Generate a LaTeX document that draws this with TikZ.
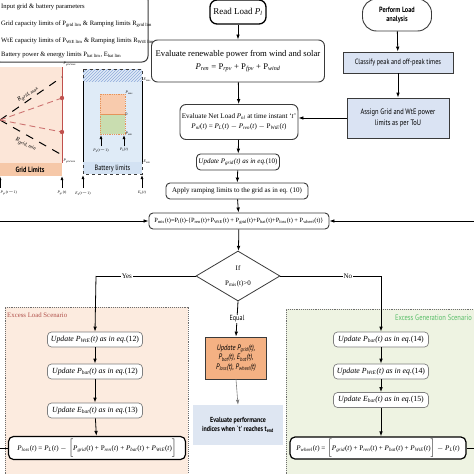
\documentclass[tikz,border=0pt]{standalone}
\usepackage{fontspec}
\setmainfont{Liberation Serif}
\newfontfamily\condsans{PT Sans}[FakeStretch=0.82]
\usetikzlibrary{shapes.geometric,arrows.meta,patterns,positioning}

\definecolor{boxdark}{HTML}{3A3A3A}
\definecolor{boxgray}{HTML}{7F7F7F}
\definecolor{touBlue}{HTML}{DAE3F3}
\definecolor{perfBlue}{HTML}{DEE6F2}
\definecolor{upOrange}{HTML}{F4B183}
\definecolor{lossPeach}{HTML}{FCEBDF}
\definecolor{lossText}{HTML}{B0504A}
\definecolor{genGreen}{HTML}{EEF3E2}
\definecolor{genText}{HTML}{5BBF6A}
\definecolor{regionline}{HTML}{6E6E6E}
\definecolor{gridPeach}{HTML}{FCE6D8}
\definecolor{gridBand}{HTML}{F6C8A8}
\definecolor{gridRed}{HTML}{C0504D}
\definecolor{batBlue}{HTML}{DFEBF7}
\definecolor{batBand}{HTML}{D3E2F3}
\definecolor{hatchBlue}{HTML}{8FAADC}
\definecolor{cellOrange}{HTML}{F8CBAD}
\definecolor{cellGreen}{HTML}{C9DDB0}
\definecolor{cellEdge}{HTML}{E5935A}

% symbols with subscripts
\newcommand{\iP}[2]{\textit{#1}\textsubscript{\textit{#2}}}
\newcommand{\uP}[2]{#1\textsubscript{\textit{#2}}}
\newcommand{\rP}[1]{P\textsubscript{#1}}
\newcommand{\tm}{(\textit{t})}

\tikzset{
  flowbox/.style={draw=boxgray, line width=0.7pt, rounded corners=4pt, fill=white,
    align=center, inner sep=1pt, font=\fontsize{7}{8.5}\selectfont},
  mainbox/.style={flowbox, draw=boxdark, line width=0.9pt},
  eqbox/.style={flowbox, draw=black, line width=1.2pt, rounded corners=5pt,
    font=\fontsize{7.1}{9}\selectfont},
  stepbox/.style={flowbox, minimum width=95pt, minimum height=15pt,
    font=\fontsize{7.8}{9}\selectfont},
  bluebox/.style={draw=boxdark, line width=0.8pt, fill=touBlue, align=center,
    font=\condsans\fontsize{7.6}{9.5}\selectfont},
  decision/.style={diamond, draw=boxdark, line width=0.8pt, fill=white,
    minimum width=84pt, minimum height=50pt, shape aspect=1.68, inner sep=0pt,
    align=center, font=\fontsize{7}{8}\selectfont},
  paramline/.style={anchor=west, inner sep=0pt, font=\fontsize{6.6}{7}\selectfont},
  arr/.style={-{Latex[length=5pt,width=3.6pt]}, line width=0.8pt},
  link/.style={line width=0.8pt},
  region/.style={draw=regionline, densely dotted, line width=0.9pt},
  tiny/.style={font=\fontsize{3.8}{4}\selectfont, inner sep=0.5pt},
  limitarrow/.style={-{Latex[length=4pt,width=3pt]}, line width=1pt},
}

\begin{document}
\begin{tikzpicture}[x=1pt,y=-1pt]
    \useasboundingbox (0,0) rectangle (474,474);

    % --- Scenario regions ---
    \fill[lossPeach] (5,307) rectangle (188,480);
    \draw[region] (5,480) -- (5,307) -- (188,307) -- (188,480);
    \fill[genGreen] (286,309) rectangle (480,480);
    \draw[region] (286,480) -- (286,309) -- (480,309);
    \node[anchor=west, text=lossText, font=\fontsize{6.8}{8}\selectfont, inner sep=0pt]
        (losslbl) at (7,315) {Excess Load Scenario};
    \node[anchor=east, text=genText, font=\condsans\fontsize{8}{9}\selectfont, inner sep=0pt]
        (genlbl) at (472,318) {Excess Generation Scenario};

    % --- Input parameters ---
    \draw[boxdark, line width=1pt, rounded corners=6pt] (-6,-6) rectangle (148,62);
    \node[paramline] (par1) at (1,7) {Input grid \& battery parameters};
    \node[paramline] (par2) at (1,24) {Grid capacity limits of \rP{grid lim} \& Ramping limits R\textsubscript{grid lim}};
    \node[paramline] (par3) at (1,41) {WtE capacity limits of \rP{WtE lim} \& Ramping limits R\textsubscript{WtE lim}};
    \node[paramline] (par4) at (1,55) {Battery power \& energy limits \rP{bat lim}, E\textsubscript{bat lim}};

    % --- Grid limits panel ---
    \fill[gridPeach] (-5,67) rectangle (62,163);
    \fill[gridBand] (-5,163) rectangle (62,176);
    \node[font=\condsans\bfseries\fontsize{7.6}{8}\selectfont] (gridlbl) at (30,169.5) {Grid Limits};
    \draw[gridRed, line width=0.8pt] (62,67) -- (62,163);
    \coordinate (G) at (0,120);
    \draw[line width=1pt, dash pattern=on 8pt off 7pt] (G) -- (62,77);
    \draw[line width=1pt, dash pattern=on 8pt off 7pt] (G) -- (62,155);
    \draw[gridRed!80, line width=0.9pt, dash pattern=on 6pt off 4pt] (G) -- (62,98);
    \draw[gridRed!80, line width=0.9pt, dash pattern=on 6pt off 4pt] (G) -- (62,132);
    \fill[gridRed] (62,98) circle (2.2pt);
    \fill[gridRed] (62,132) circle (2.2pt);
    \node[rotate=35, font=\fontsize{6}{7}\selectfont, inner sep=0pt] (rmax) at (28,94)
        {\textit{R}\textsubscript{\textit{grid, max}}};
    \node[rotate=-22, font=\fontsize{6}{7}\selectfont, inner sep=0pt] (rmin) at (26,144)
        {\textit{R}\textsubscript{\textit{grid, min}}};
    \node[tiny, anchor=west] (pgmax) at (63,64) {\iP{P}{grid max}};
    \node[tiny, anchor=west] (pgmin) at (63,161) {\iP{P}{grid min}};
    \draw[limitarrow] (0,188) -- (0,176);
    \draw[limitarrow] (62,188) -- (62,176);
    \node[tiny, anchor=west] (pgr1) at (0,193) {\iP{P}{gr}(\textit{t}$-$1)};
    \node[tiny] (pgr0) at (62,193) {\iP{P}{gr}\tm};

    % --- Battery limits panel ---
    \fill[batBlue] (83,69) rectangle (142,162);
    \fill[pattern=north east lines, pattern color=hatchBlue] (83,69) rectangle (142,81);
    \fill[batBand] (83,162) rectangle (142,174);
    \draw[boxdark, line width=1pt, dashed] (83,69) rectangle (142,174);
    \draw[line width=1pt] (83,81) -- (83,162) (142,81) -- (142,162);
    \node[font=\condsans\fontsize{7.6}{8}\selectfont] (batlbl) at (112.5,168.5) {Battery limits};
    \fill[cellOrange] (100,94) rectangle (125,114);
    \fill[cellGreen] (100,114) rectangle (125,134);
    \draw[cellEdge, line width=0.8pt, densely dotted] (100,94) rectangle (125,134);
    \draw[cellEdge, line width=0.8pt] (100,114) -- (125,114);
    \node[tiny, anchor=west] (pbmax) at (125,93) {\iP{P}{max}};
    \node[tiny, anchor=west] (pbzero) at (125,114) {0};
    \node[tiny, anchor=west] (pbmin) at (125,134) {\iP{P}{min}};
    \node[tiny, anchor=west] (emax) at (143,80) {\iP{E}{max}};
    \node[tiny, anchor=west] (emin) at (143,162) {\iP{E}{min}};
    \draw[limitarrow] (101,146) -- (101,135);
    \draw[limitarrow] (124,146) -- (124,135);
    \node[tiny] (pb1) at (101,150) {\iP{P}{b}(\textit{t}$-$1)};
    \node[tiny] (pb0) at (124,150) {\iP{P}{b}\tm};
    \draw[limitarrow] (83,188) -- (83,175);
    \draw[limitarrow] (142,188) -- (142,175);
    \node[tiny] (eb1) at (83,193) {\iP{E}{b}(\textit{t}$-$1)};
    \node[tiny] (eb0) at (142,193) {\iP{E}{b}\tm};

    % --- Main column ---
    \node[mainbox, line width=1.3pt, draw=black, rounded corners=7pt, minimum width=56pt,
        minimum height=24pt, font=\fontsize{9}{10}\selectfont] (readload) at (238,12) {Read Load \iP{P}{l}};
    \node[mainbox, minimum width=173pt, minimum height=42pt, rounded corners=6pt,
        font=\fontsize{8.7}{10}\selectfont] (evalren) at (238,61)
        {Evaluate renewable power from wind and solar\\[3pt]
         \iP{P}{ren} = \uP{P}{rpv} + \uP{P}{fpv} + \uP{P}{wind}};
    \node[mainbox, minimum width=118pt, minimum height=35pt, rounded corners=6pt,
        font=\fontsize{7.1}{9}\selectfont] (netload) at (239,122)
        {Evaluate Net Load \iP{P}{nl} at time instant `\textit{t}'\\[1pt]
         \iP{P}{nl}\tm{} = \iP{P}{L}\tm{} $-$ \iP{P}{ren}\tm{} $-$ \uP{P}{WtE}\tm};
    \node[mainbox, minimum width=83pt, minimum height=16pt] (updgrid) at (238,162)
        {\textit{Update \iP{P}{grid}\tm{} as in eq.}(10)};
    \node[mainbox, minimum width=142pt, minimum height=16pt] (ramp) at (237,191)
        {Apply ramping limits to the grid as in eq. (10)};
    \node[mainbox, minimum width=180pt, minimum height=16pt, font=\fontsize{6.4}{7}\selectfont] (pmis) at (239,221)
        {\rP{mis}(t)=\rP{l}(t)-\{\rP{ren}(t)+\rP{WtE}(t) + \rP{grid}(t)+\rP{bat}(t)+\rP{loss}(t) + \rP{wheel}(t)\}};
    \node[decision] (dec) at (238,276) {If\\[7pt]\rP{mis}(t)>0};
    \node[draw=boxdark, line width=0.8pt, fill=upOrange, minimum width=61pt, minimum height=42pt,
        align=center, inner sep=1pt, font=\condsans\itshape\fontsize{7.9}{9.2}\selectfont] (upall) at (236,358)
        {Update \iP{P}{grid}\tm,\\ \iP{P}{bat}\tm, \iP{E}{bat}\tm,\\ \iP{P}{loss}\tm, \iP{P}{wheel}\tm};
    \node[fill=perfBlue, minimum width=90pt, minimum height=40pt, align=center,
        font=\condsans\bfseries\fontsize{7.3}{9}\selectfont] (evalperf) at (238,425)
        {Evaluate performance\\indices when `t' reaches t\textsubscript{end}};

    % --- ToU column ---
    \node[draw=boxdark, line width=0.9pt, fill=white, rounded corners=14pt, minimum width=69pt,
        minimum height=32pt, align=center, font=\condsans\bfseries\fontsize{7.6}{9}\selectfont]
        (perform) at (397,15) {Perform Load\\analysis};
    \node[bluebox, minimum width=110pt, minimum height=21pt] (classify) at (398,62.5)
        {Classify peak and off-peak times};
    \node[bluebox, minimum width=102pt, minimum height=40pt, font=\condsans\fontsize{7.9}{11}\selectfont]
        (assign) at (398,118) {Assign Grid and WtE power\\limits as per ToU};

    % --- Excess load steps ---
    \node[stepbox] (lwte) at (95,339.5) {\textit{Update \iP{P}{WtE}\tm{} as in eq.}(12)};
    \node[stepbox] (lbat) at (95,371.5) {\textit{Update \iP{P}{bat}\tm{} as in eq.}(12)};
    \node[stepbox] (lebat) at (95,410.5) {\textit{Update \iP{E}{bat}\tm{} as in eq.}(13)};
    \node[eqbox, minimum width=177pt, minimum height=23pt] (ploss) at (97,448)
        {\iP{P}{loss}\tm{} = \iP{P}{L}\tm{} $-$ $\Big[$\iP{P}{grid}\tm{} + \uP{P}{ren}\tm{} + \iP{P}{bat}\tm{} + \iP{P}{WtE}\tm$\Big]$};

    % --- Excess generation steps ---
    \node[stepbox] (rbat) at (381,339.5) {\textit{Update \iP{P}{bat}\tm{} as in eq.}(14)};
    \node[stepbox] (rwte) at (381,371.5) {\textit{Update \iP{P}{WtE}\tm{} as in eq.}(14)};
    \node[stepbox] (rebat) at (381,400) {\textit{Update \iP{E}{bat}\tm{} as in eq.}(15)};
    \node[eqbox, minimum width=176pt, minimum height=22pt] (pwheel) at (378,448)
        {\iP{P}{wheel}\tm{} = $\Big[$\iP{P}{grid}\tm{} + \uP{P}{ren}\tm{} + \iP{P}{bat}\tm{} + \iP{P}{WtE}\tm$\Big]$ $-$ \iP{P}{L}\tm};

    % --- Turning points ---
    \coordinate (yesTurn) at (96,276);
    \coordinate (noTurn) at (381,276);
    \coordinate (lossTurn) at (-3,448);
    \coordinate (wheelTurn) at (478,448);

    % --- Connectors ---
    \draw[arr] (readload) -- (evalren);
    \draw[arr] (evalren) -- (netload);
    \draw[arr] (netload) -- (updgrid);
    \draw[arr] (updgrid) -- (ramp);
    \draw[arr] (ramp) -- (pmis);
    \draw[arr] (pmis) -- (dec);
    \draw[arr] (dec.south) -- node[fill=white, inner sep=1pt,
        font=\condsans\fontsize{7.4}{8}\selectfont] {Equal} (upall.north);
    \draw[arr, line width=0.6pt, boxgray] (upall.south) -- (evalperf.north);
    \draw[arr] (perform) -- (classify);
    \draw[arr] (classify) -- (assign);
    \draw[arr] (assign.west) -- (assign.west -| netload.east);

    \draw[link] (dec.west) -- node[pos=0.69, fill=white, inner sep=1pt,
        font=\fontsize{7}{8}\selectfont] {Yes} (yesTurn);
    \draw[arr] (yesTurn) -- (lwte.north);
    \draw[arr] (lwte) -- (lbat);
    \draw[arr] (lbat) -- (lebat);
    \draw[arr] (lebat) -- (ploss);

    \draw[link] (dec.east) -- node[pos=0.67, fill=white, inner sep=1pt,
        font=\fontsize{7}{8}\selectfont] {No} (noTurn);
    \draw[arr] (noTurn) -- (rbat.north);
    \draw[arr] (rbat) -- (rwte);
    \draw[arr] (rwte) -- (rebat);
    \draw[arr] (rebat.south) -- (rebat.south |- pwheel.north);

    % feedback to the mismatch node
    \draw[arr] (ploss.west) -- (lossTurn) |- (pmis.west);
    \draw[arr] (pwheel.east) -- (wheelTurn) |- (pmis.east);

\end{tikzpicture}
\end{document}
